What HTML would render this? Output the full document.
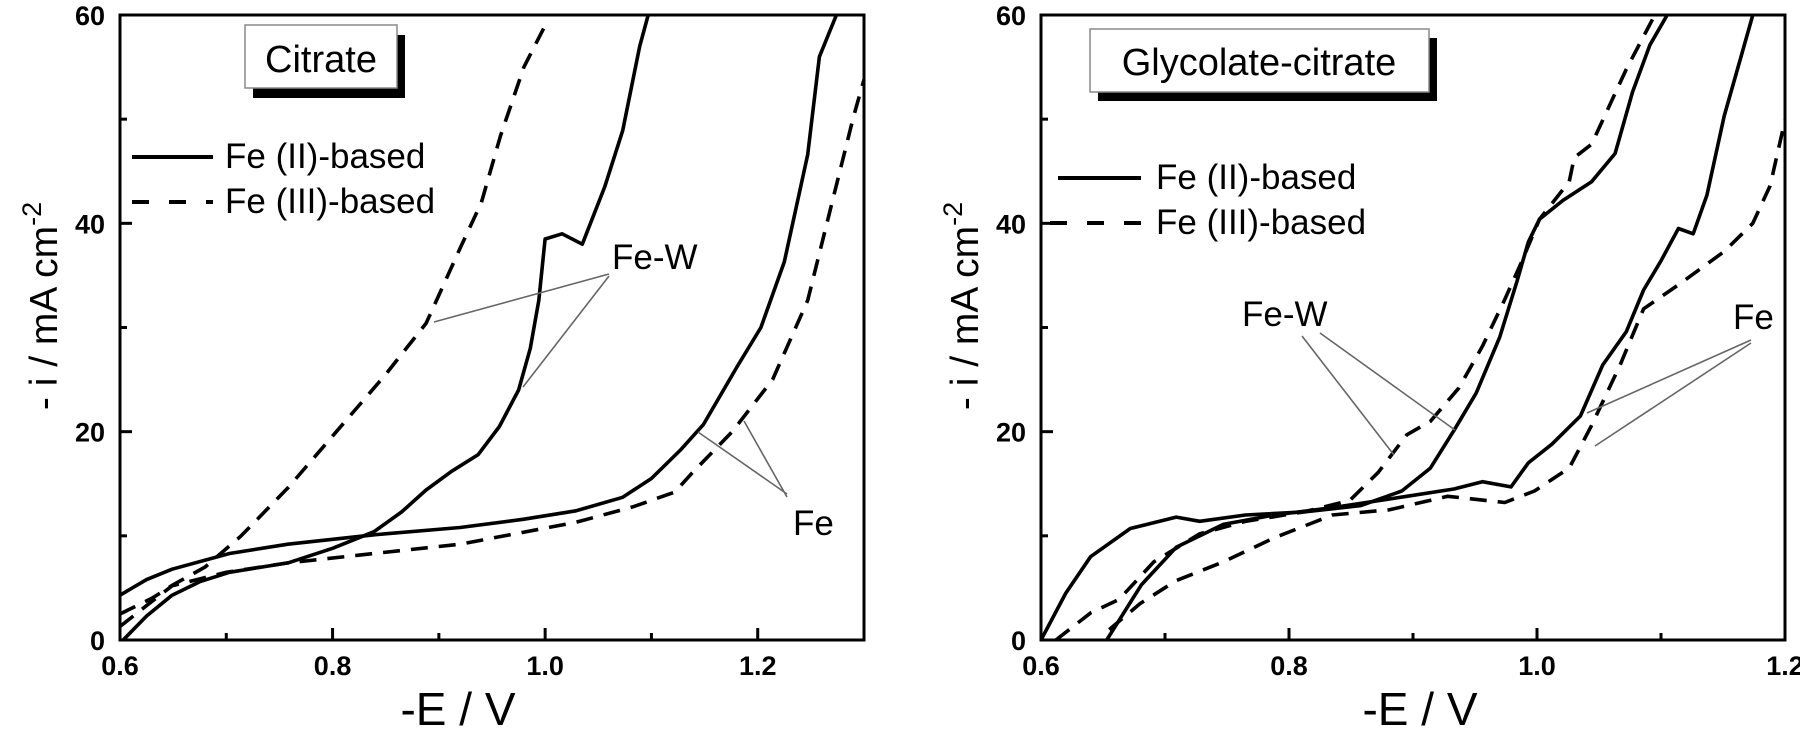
<!DOCTYPE html>
<html><head><meta charset="utf-8"><style>
html,body{margin:0;padding:0;background:#fff;}
svg{display:block;font-family:"Liberation Sans",sans-serif;}
</style></head><body>
<svg id="s" width="1800" height="735" viewBox="0 0 1800 735" xmlns="http://www.w3.org/2000/svg">
<g id="L"></g><g id="R"></g>
<!-- left static -->
<rect x="253" y="35" width="152" height="63" fill="#000"/>
<rect x="245" y="25" width="152" height="63" fill="#fff" stroke="#888" stroke-width="1.5"/>
<text x="321" y="72" font-size="38" text-anchor="middle">Citrate</text>
<line x1="132" y1="157" x2="213" y2="157" stroke="#000" stroke-width="4"/>
<line x1="132" y1="202" x2="213" y2="202" stroke="#000" stroke-width="4" stroke-dasharray="17,20"/>
<text x="225" y="168" font-size="35">Fe (II)-based</text>
<text x="225" y="213" font-size="35">Fe (III)-based</text>
<text x="612" y="269" font-size="35">Fe-W</text>
<g stroke="#666" stroke-width="1.6">
<line x1="609" y1="274" x2="434" y2="322"/><line x1="609" y1="276" x2="523" y2="387"/>
<line x1="787" y1="494" x2="698" y2="432"/><line x1="787" y1="497" x2="744" y2="421"/>
<line x1="1302" y1="336" x2="1394" y2="455"/><line x1="1320" y1="333" x2="1455" y2="430"/>
<line x1="1751" y1="340" x2="1587" y2="413"/><line x1="1751" y1="343" x2="1595" y2="446"/>
</g>
<text x="793" y="535" font-size="35">Fe</text>
<text x="458" y="725" font-size="46" text-anchor="middle">-E / V</text>
<text transform="translate(57,306) rotate(-90)" font-size="39" text-anchor="middle">- i / mA cm<tspan dy="-16" font-size="27">-2</tspan></text>
<!-- right static -->
<rect x="1098" y="38" width="339" height="63" fill="#000"/>
<rect x="1090" y="29" width="339" height="63" fill="#fff" stroke="#888" stroke-width="1.5"/>
<text x="1259" y="75" font-size="38" text-anchor="middle">Glycolate-citrate</text>
<line x1="1058" y1="178" x2="1141" y2="178" stroke="#000" stroke-width="4"/>
<line x1="1050" y1="223" x2="1141" y2="223" stroke="#000" stroke-width="4" stroke-dasharray="17,20"/>
<text x="1156" y="189" font-size="35">Fe (II)-based</text>
<text x="1156" y="234" font-size="35">Fe (III)-based</text>
<text x="1242" y="326" font-size="35">Fe-W</text>
<text x="1733" y="329" font-size="35">Fe</text>
<text x="1420" y="725" font-size="46" text-anchor="middle">-E / V</text>
<text transform="translate(978,306) rotate(-90)" font-size="39" text-anchor="middle">- i / mA cm<tspan dy="-16" font-size="27">-2</tspan></text>
</svg>
<script>
var NS="http://www.w3.org/2000/svg";
function el(p,t,a,txt){var e=document.createElementNS(NS,t);for(var k in a)e.setAttribute(k,a[k]);if(txt!==undefined)e.textContent=txt;p.appendChild(e);return e;}
function plot(g,x0,x1,e0,e1,ticks,minor,curves){
  var y0=640,y1=15;
  var X=function(e){return x0+(e-e0)/(e1-e0)*(x1-x0);}, Y=function(i){return y0-(i/60)*(y0-y1);};
  curves.forEach(function(c){
    var d=c.p.map(function(p,k){return (k?"L":"M")+X(p[0]).toFixed(1)+","+Y(p[1]).toFixed(1);}).join("");
    var a={d:d,fill:"none",stroke:"#000","stroke-width":3.6,"stroke-linejoin":"round"};
    if(c.dash)a["stroke-dasharray"]="17,11";
    el(g,"path",a);
  });
  el(g,"rect",{x:x0,y:y1,width:x1-x0,height:y0-y1,fill:"none",stroke:"#000","stroke-width":3});
  ticks.forEach(function(t){var x=X(t);el(g,"line",{x1:x,y1:y0,x2:x,y2:y0-12,stroke:"#000","stroke-width":3});
    el(g,"text",{x:x,y:675,"font-size":27,"font-weight":"bold","text-anchor":"middle"},t.toFixed(1));});
  minor.forEach(function(t){var x=X(t);el(g,"line",{x1:x,y1:y0,x2:x,y2:y0-7,stroke:"#000","stroke-width":3});});
  [0,20,40,60].forEach(function(v){var y=Y(v);el(g,"line",{x1:x0,y1:y,x2:x0+12,y2:y,stroke:"#000","stroke-width":3});
    el(g,"text",{x:x0-15,y:y+10,"font-size":27,"font-weight":"bold","text-anchor":"end"},String(v));});
  [10,30,50].forEach(function(v){var y=Y(v);el(g,"line",{x1:x0,y1:y,x2:x0+7,y2:y,stroke:"#000","stroke-width":3});});
}
plot(document.getElementById("L"),120,864,0.6,1.3,[0.6,0.8,1.0,1.2],[0.7,0.9,1.1],[
 {dash:1,p:[[0.6,2.5],[0.63,4],[0.65,5.3],[0.68,7],[0.714,10],[0.758,14.6],[0.812,21],[0.85,25.5],[0.888,30.4],[0.92,37.6],[0.94,42],[0.958,48.4],[0.98,55],[0.999,58.8]]},
 {p:[[0.603,0],[0.625,2.3],[0.649,4.3],[0.675,5.6],[0.703,6.5],[0.758,7.4],[0.8,8.8],[0.839,10.4],[0.865,12.3],[0.888,14.4],[0.912,16.2],[0.937,17.8],[0.957,20.5],[0.975,24],[0.986,28],[0.994,32.6],[1.0,38.5],[1.016,39],[1.035,38],[1.056,43.5],[1.073,48.9],[1.089,57],[1.097,60]]},
 {p:[[0.6,4.3],[0.625,5.8],[0.649,6.8],[0.703,8.3],[0.758,9.2],[0.839,10.1],[0.92,10.8],[0.98,11.6],[1.029,12.4],[1.073,13.7],[1.1,15.5],[1.127,18.2],[1.149,20.7],[1.181,26.3],[1.203,30],[1.225,36.3],[1.247,46.6],[1.258,56],[1.274,60]]},
 {dash:1,p:[[0.6,1.3],[0.625,3.3],[0.649,5.2],[0.7,6.5],[0.758,7.4],[0.839,8.3],[0.92,9.2],[1.029,11.3],[1.083,12.8],[1.122,14.2],[1.138,16],[1.176,20],[1.214,25],[1.247,32.6],[1.268,41.2],[1.29,50.2],[1.3,53.8]]}
]);
plot(document.getElementById("R"),1041,1785,0.6,1.2,[0.6,0.8,1.0,1.2],[0.7,0.9,1.1],[
 {p:[[0.6,0],[0.62,4.5],[0.64,8],[0.672,10.7],[0.709,11.8],[0.728,11.4],[0.765,12],[0.812,12.3],[0.858,12.9],[0.891,14.3],[0.914,16.5],[0.933,20.1],[0.951,23.7],[0.97,29.1],[0.984,34.5],[0.993,38.2],[1.002,40.4],[1.021,42.2],[1.044,44],[1.063,46.7],[1.077,52.6],[1.091,57.1],[1.105,60]]},
 {dash:1,p:[[0.612,0],[0.64,2.6],[0.663,3.9],[0.691,7.5],[0.728,10.2],[0.765,11.4],[0.812,12.3],[0.849,13.4],[0.872,16.1],[0.895,19.7],[0.914,21],[0.937,24.2],[0.956,28.2],[0.974,32.7],[0.988,36.4],[1.002,40.4],[1.026,44],[1.03,46.3],[1.044,47.6],[1.072,54.8],[1.095,60]]},
 {p:[[0.653,0],[0.681,5.3],[0.709,8.9],[0.747,11.1],[0.788,12],[0.835,12.7],[0.895,13.8],[0.933,14.5],[0.956,15.2],[0.979,14.7],[0.993,17],[1.012,18.8],[1.035,21.5],[1.053,26.4],[1.072,29.6],[1.086,33.6],[1.1,36.4],[1.114,39.5],[1.126,39],[1.137,42.7],[1.151,50.3],[1.165,56.2],[1.174,60]]},
 {dash:1,p:[[0.655,1],[0.68,3.5],[0.709,5.7],[0.747,7.5],[0.788,9.8],[0.835,12],[0.881,12.5],[0.928,13.8],[0.974,13.2],[0.998,14.3],[1.026,16.5],[1.044,20.6],[1.067,26.4],[1.086,31.8],[1.114,34.1],[1.151,37.3],[1.174,40],[1.188,43.6],[1.2,49.9]]}
]);
</script>
</body></html>
